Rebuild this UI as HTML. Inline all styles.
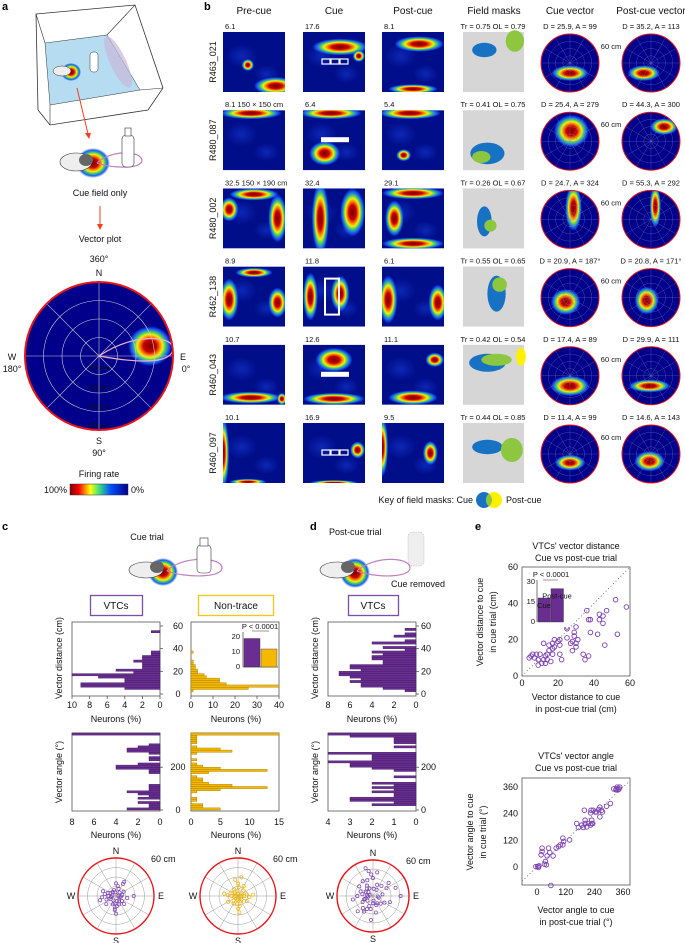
<!DOCTYPE html>
<html><head><meta charset="utf-8">
<style>
html,body{margin:0;padding:0;background:#fff;}
svg{display:block;font-family:"Liberation Sans",Arial,sans-serif;}
.t{font-size:9px;fill:#111;}
.s{font-size:7.5px;fill:#111;}
.h{font-size:10px;fill:#111;}
.b{font-size:11px;font-weight:bold;fill:#000;}
.ax{stroke:#555;stroke-width:0.8;fill:none;}
</style></head>
<body>
<svg id="fig" width="685" height="943" viewBox="0 0 685 943" xmlns="http://www.w3.org/2000/svg">
<defs>
<radialGradient id="jet">
<stop offset="0" stop-color="#7a0000"/><stop offset="0.3" stop-color="#c80000"/><stop offset="0.47" stop-color="#ff8c00"/><stop offset="0.58" stop-color="#f2ee10"/><stop offset="0.7" stop-color="#44d060"/><stop offset="0.85" stop-color="#1a5cff"/><stop offset="1" stop-color="#1a5cff" stop-opacity="0"/>
</radialGradient>
<radialGradient id="bluenoise">
<stop offset="0" stop-color="#1a40e0" stop-opacity="0.5"/><stop offset="1" stop-color="#1a40e0" stop-opacity="0"/>
</radialGradient>
<linearGradient id="cbar" x1="0" x2="1" y1="0" y2="0">
<stop offset="0" stop-color="#800000"/><stop offset="0.15" stop-color="#ff0000"/><stop offset="0.35" stop-color="#ffff00"/><stop offset="0.5" stop-color="#40e080"/><stop offset="0.7" stop-color="#0050ff"/><stop offset="1" stop-color="#00008b"/>
</linearGradient>
</defs>

<!-- Panel a -->
<g>
<text class="b" x="2" y="10">a</text>
<polygon points="36,14 135,5 163,88 148,110 50,125 38,110" fill="#fff" stroke="#333" stroke-width="0.8"/>
<polygon points="45,43 107,35 140,90 50,105" fill="#b6dcf2" stroke="#333" stroke-width="0.5"/>
<ellipse cx="118" cy="62" rx="8" ry="28" fill="#c8b8d8" opacity="0.7" transform="rotate(-25 118 62)"/>
<line x1="135" y1="5" x2="107" y2="35" stroke="#333" stroke-width="0.6"/>
<line x1="36" y1="14" x2="45" y2="43" stroke="#333" stroke-width="0.6"/>
<line x1="163" y1="88" x2="140" y2="90" stroke="#333" stroke-width="0.6"/>
<line x1="50" y1="125" x2="50" y2="105" stroke="#333" stroke-width="0.6"/>
<ellipse cx="71" cy="72" rx="10" ry="9" fill="url(#jet)"/>
<ellipse cx="62" cy="71" rx="9" ry="5" fill="#eee" stroke="#333" stroke-width="0.5"/>
<rect x="90" y="52" width="8" height="20" rx="3" fill="#fff" stroke="#333" stroke-width="0.5"/>
<line x1="77" y1="88" x2="88" y2="134" stroke="#f04020" stroke-width="1"/>
<polygon points="85,133 91,133 89,139" fill="#f04020"/>
<ellipse cx="93" cy="163" rx="17" ry="15" fill="url(#jet)"/>
<ellipse cx="76" cy="162" rx="16" ry="9" fill="#eee" stroke="#333" stroke-width="0.6"/>
<ellipse cx="86" cy="160" rx="7" ry="6" fill="#666"/>
<path d="M97,163 C110,150 140,150 142,160 C142,170 110,168 97,163" fill="none" stroke="#c080c0" stroke-width="1.2"/>
<rect x="122" y="135" width="12" height="32" rx="4" fill="#fff" stroke="#333" stroke-width="0.6"/>
<rect x="125" y="128" width="6" height="8" fill="#fff" stroke="#333" stroke-width="0.6"/>
<text class="t" x="100" y="196" text-anchor="middle">Cue field only</text>
<line x1="100" y1="206" x2="100" y2="225" stroke="#f04020" stroke-width="1"/>
<polygon points="97,224 103,224 100,230" fill="#f04020"/>
<text class="t" x="100" y="242" text-anchor="middle">Vector plot</text>
<text class="t" x="99" y="262" text-anchor="middle">360°</text>
<text class="t" x="99" y="276" text-anchor="middle">N</text>
<g id="polarA"></g>
<text class="t" x="12" y="360" text-anchor="middle">W</text>
<text class="t" x="12" y="372" text-anchor="middle">180°</text>
<text class="t" x="183" y="360" text-anchor="middle">E</text>
<text class="t" x="186" y="372" text-anchor="middle">0°</text>
<text class="t" x="99" y="444" text-anchor="middle">S</text>
<text class="t" x="99" y="456" text-anchor="middle">90°</text>
<text class="t" x="99" y="477" text-anchor="middle">Firing rate</text>
<rect x="70" y="484" width="58" height="11" fill="url(#cbar)" stroke="#333" stroke-width="0.5"/>
<text class="t" x="67" y="493" text-anchor="end">100%</text>
<text class="t" x="131" y="493">0%</text>
</g>

<!-- Panel b -->
<g id="panelB">
<text class="b" x="204" y="10">b</text>
<text class="h" x="254" y="14" text-anchor="middle">Pre-cue</text>
<text class="h" x="334" y="14" text-anchor="middle">Cue</text>
<text class="h" x="413" y="14" text-anchor="middle">Post-cue</text>
<text class="h" x="494" y="14" text-anchor="middle">Field masks</text>
<text class="h" x="570" y="14" text-anchor="middle">Cue vector</text>
<text class="h" x="651" y="14" text-anchor="middle">Post-cue vector</text>
<text class="t" x="473" y="503" text-anchor="end">Key of field masks: Cue</text>
<circle cx="484" cy="500" r="8" fill="#1872c4"/>
<circle cx="494" cy="500" r="8" fill="#fff000"/>
<path d="M489,493.7 A8,8 0 0 1 489,506.3 A8,8 0 0 1 489,493.7" fill="#8dc63f"/>
<text class="t" x="506" y="503">Post-cue</text>
</g>

<!-- Panel c -->
<g id="panelC">
<text class="b" x="2" y="530">c</text>
<text class="t" x="147" y="540" text-anchor="middle">Cue trial</text>
<ellipse cx="163" cy="572" rx="15" ry="14" fill="url(#jet)"/>
<ellipse cx="146" cy="570" rx="17" ry="8" fill="#eee" stroke="#333" stroke-width="0.6"/>
<ellipse cx="157" cy="567" rx="7" ry="6" fill="#666"/>
<path d="M167,571 C180,556 222,556 222,568 C222,578 185,578 167,571" fill="none" stroke="#c080c0" stroke-width="1.2"/>
<rect x="197" y="545" width="14" height="28" rx="4" fill="#fff" stroke="#333" stroke-width="0.6"/>
<rect x="200" y="538" width="8" height="8" fill="#fff" stroke="#333" stroke-width="0.6"/>
<rect x="90.5" y="595.5" width="52" height="20" fill="#fff" stroke="#7b4fa8" stroke-width="1.3"/>
<text class="h" x="116" y="609" text-anchor="middle">VTCs</text>
<rect x="198.5" y="595.5" width="75" height="20" fill="#fff" stroke="#f5c518" stroke-width="1.3"/>
<text class="h" x="236" y="609" text-anchor="middle">Non-trace</text>
<text class="t" transform="translate(62,658) rotate(-90)" text-anchor="middle">Vector distance (cm)</text>
<text class="t" transform="translate(62,772) rotate(-90)" text-anchor="middle">Vector angle (°)</text>
<text class="t" x="116" y="722" text-anchor="middle">Neurons (%)</text>
<text class="t" x="236" y="722" text-anchor="middle">Neurons (%)</text>
<text class="t" x="116" y="838" text-anchor="middle">Neurons (%)</text>
<text class="t" x="236" y="838" text-anchor="middle">Neurons (%)</text>
</g>

<!-- Panel d -->
<g id="panelD">
<text class="b" x="310" y="530">d</text>
<text class="t" x="329" y="535">Post-cue trial</text>
<rect x="408" y="532" width="16" height="34" rx="5" fill="#eee" stroke="#bbb" stroke-width="0.6" stroke-dasharray="1.5,1"/>
<ellipse cx="355" cy="573" rx="15" ry="15" fill="url(#jet)"/>
<ellipse cx="337" cy="570" rx="17" ry="8" fill="#eee" stroke="#333" stroke-width="0.6"/>
<ellipse cx="348" cy="567" rx="7" ry="6" fill="#666"/>
<path d="M357,571 C372,556 410,556 410,568 C410,578 375,578 357,571" fill="none" stroke="#c080c0" stroke-width="1.2"/>
<text class="t" x="391" y="587">Cue removed</text>
<rect x="348.5" y="595.5" width="50" height="20" fill="#fff" stroke="#7b4fa8" stroke-width="1.3"/>
<text class="h" x="373" y="609" text-anchor="middle">VTCs</text>
<text class="t" transform="translate(318,658) rotate(-90)" text-anchor="middle">Vector distance (cm)</text>
<text class="t" transform="translate(318,772) rotate(-90)" text-anchor="middle">Vector angle (°)</text>
<text class="t" x="372" y="722" text-anchor="middle">Neurons (%)</text>
<text class="t" x="372" y="838" text-anchor="middle">Neurons (%)</text>
</g>

<!-- Panel e -->
<g id="panelE">
<text class="b" x="475" y="530">e</text>
<text class="t" x="576" y="549" text-anchor="middle">VTCs' vector distance</text>
<text class="t" x="576" y="561" text-anchor="middle">Cue vs post-cue trial</text>
<text class="t" transform="translate(483,622) rotate(-90)" text-anchor="middle">Vector distance to cue</text>
<text class="t" transform="translate(496,622) rotate(-90)" text-anchor="middle">in cue trial (cm)</text>
<text class="t" x="576" y="700" text-anchor="middle">Vector distance to cue</text>
<text class="t" x="576" y="712" text-anchor="middle">in post-cue trial (cm)</text>
<text class="t" x="576" y="759" text-anchor="middle">VTCs' vector angle</text>
<text class="t" x="576" y="771" text-anchor="middle">Cue vs post-cue trial</text>
<text class="t" transform="translate(473,832) rotate(-90)" text-anchor="middle">Vector angle to cue</text>
<text class="t" transform="translate(486,832) rotate(-90)" text-anchor="middle">in cue trial (°)</text>
<text class="t" x="576" y="913" text-anchor="middle">Vector angle to cue</text>
<text class="t" x="576" y="925" text-anchor="middle">in post-cue trial  (°)</text>
</g>
</svg>

<script>
// ---------- chart data ----------
const distBinWidth = 2;      // cm
const angleBinWidth = 10;    // degrees
const cDistVTC = [0,0,4,9,9,4,4,7,10,3,5,2,2,2,3,2,2,1,1,0,0,0,0,0,0,0,0,1,0,0];
const cDistNonTrace = [0,1,26,40,16,13,13,7,6,3,3,2,2,1,1,0,0,0,1,0,0,0,0,0,0,0,0,0,0,0];
const cAngleVTC = [3,1,1,2,0,2,1,2,3,1,1,1,0,0,0,0,0,1,1,4,4,2,0,1,1,0,1,3,3,2,1,0,0,0,0,8];
const cAngleNonTrace = [5,2,2,0,1,1,0,0,1,5,13,7,3,2,2,1,0,3,13,5,2,1,0,1,0,0,1,7,5,1,0,1,1,1,1,15];
const dDistVTC = [0,1,3,5,5,6,5,6,7,7,5,6,6,3,3,4,4,3,4,1,3,0,4,1,0,2,1,0,1,0];
const dAngleVTC = [0,0,2,1,3,3,1,1,2,1,2,1,2,0,0,1,0,0,1,2,3,3,4,2,2,2,4,0,0,1,0,1,1,1,3,4];
const insetCLabels = ['VTCs','Non-trace'];
const insetCValues = [19,12];
const insetELabels = ['Cue','Post-cue'];
const insetEValues = [18,25];
const eDistPost = [52,58,47,43,45,36,37,38,43,45,38,42,53,46,30,25,25,29,29,25,31,30,28,27,30,28,21,20,18,17,21,18,17,15,12,15,14,17,21,22,34,37,35,14,16,13,12,11,9,8,10,7,9,13,5,6,4];
const eDistCue  = [42,38,36,34,33,36,31,31,31,29,24,23,23,17,27,27,26,24,22,21,20,18,19,18,16,14,20,19,20,18,17,16,15,17,18,14,12,12,12,9,12,11,9,9,8,11,9,7,9,12,12,10,6,7,11,12,10];
const eAnglePost = [-5,3,6,8,21,21,17,48,53,67,42,35,31,39,58,80,90,97,108,108,111,136,166,173,187,194,201,208,201,198,215,224,233,229,224,226,235,244,249,263,263,258,270,274,291,307,321,332,335,343,346,339,330,229];
const eAngleCue  = [2,3,-2,5,70,85,55,85,65,50,50,25,13,10,-83,85,92,100,100,130,115,122,196,178,189,178,196,181,211,256,196,189,196,211,244,256,256,248,248,270,226,259,256,248,274,286,352,352,360,352,360,348,348,196];
const cPolarVTCAng  = [270,280,290,300,250,230,200,190,180,175,170,160,150,120,100,95,90,85,80,70,60,40,20,10,0,350,330,315,300,260,210,185,140,110,45,5,355,200,165,95];
const cPolarVTCDist = [20,16,12,22,10,8,14,18,12,22,8,16,10,8,12,20,28,16,8,14,10,12,6,18,28,10,14,8,26,6,10,6,20,14,18,8,4,22,26,22];
const cPolarNTAng  = [270,275,265,90,95,85,180,185,0,5,355,45,135,225,315,260,280,100,80,190,170,10,350,300,240,120,60,30,150,210,330,270,90,0,180];
const cPolarNTDist = [20,14,8,20,12,26,10,16,10,18,24,8,10,8,12,26,30,6,16,22,6,4,14,18,12,14,10,16,18,10,8,4,4,6,4];
const dPolarAng  = [260,265,270,280,250,240,230,220,210,200,190,185,180,175,170,160,150,140,130,120,110,100,95,90,85,80,60,45,30,15,0,350,330,320,300,290,275,255,235,200,160,135,115,70,20,5,340,310,245,215];
const dPolarDist = [42,36,30,40,28,20,16,10,14,22,18,10,26,8,34,16,20,12,26,30,18,22,40,12,8,28,14,18,22,10,46,16,26,34,12,20,12,48,30,6,14,36,24,16,30,8,40,22,14,28];

// ---------- helpers ----------
const NS = 'http://www.w3.org/2000/svg';
const fig = document.getElementById('fig');
function mk(tag, attrs, parent) {
  const el = document.createElementNS(NS, tag);
  for (const k in attrs) el.setAttribute(k, attrs[k]);
  (parent || fig).appendChild(el);
  return el;
}
function txt(str, x, y, cls, anchor, parent, fill) {
  const el = mk('text', {x: x, y: y, class: cls, 'text-anchor': anchor || 'middle'}, parent);
  if (fill) el.setAttribute('fill', fill);
  el.textContent = str;
  return el;
}
function hbar(values, binW, yMap, x0, xMaxPix, maxVal, fill, stroke, name) {
  const g = mk('g', {});
  
  
  const sx = v => x0 + (xMaxPix - x0) * v / maxVal;
  values.forEach((v, i) => {
    if (v <= 0) return;
    const ya = yMap(i * binW), yb = yMap((i + 1) * binW);
    const xa = Math.min(x0, sx(v)), w = Math.abs(sx(v) - x0);
    const r = mk('rect', {x: xa, y: Math.min(ya, yb), width: w, height: Math.abs(ya - yb), fill: fill, stroke: stroke, 'stroke-width': 0.4}, g);
    
    
  });
  return g;
}
function box(x, y, w, h, name) {
  const r = mk('rect', {x: x, y: y, width: w, height: h, class: 'ax'});
  
  
}

const distY = v => 694 - (694 - 626) * v / 60;
const angY = v => 810 - (810 - 733) * v / 360;
const PUR = '#6a2d91', PURE = '#3d1a5c', YEL = '#f5b800', YELE = '#a07800';

box(72, 622, 88, 74, 'c-vtc-distance-axes');
hbar(cDistVTC, distBinWidth, distY, 160, 72, 10, PUR, PURE, 'c-vtc-distance-hist');
[10,8,6,4,2,0].forEach(v => { const x = 160 - 88 * v / 10; mk('line',{x1:x,y1:696,x2:x,y2:699,class:'ax'}); txt(String(v), x, 708, 't'); });
[0,20,40,60].forEach(v => { const y = distY(v); mk('line',{x1:160,y1:y,x2:163,y2:y,class:'ax'}); txt(String(v), 178, y + 3, 't'); });

box(191, 622, 88, 74, 'c-nontrace-distance-axes');
hbar(cDistNonTrace, distBinWidth, distY, 191, 279, 40, YEL, YELE, 'c-nontrace-distance-hist');
[0,10,20,30,40].forEach(v => { const x = 191 + 88 * v / 40; mk('line',{x1:x,y1:696,x2:x,y2:699,class:'ax'}); txt(String(v), x, 708, 't'); });

(function(){
  const yb = 667, yt = 637, max = 20, sy = v => yb - (yb - yt) * v / max;
  mk('line',{x1:243,y1:632,x2:243,y2:yb,class:'ax'});
  mk('line',{x1:243,y1:yb,x2:278,y2:yb,class:'ax'});
  [0,10,20].forEach(v => txt(String(v), 240, sy(v) + 2, 's', 'end'));
  const cols = [PUR, YEL];
  insetCValues.forEach((v, i) => {
    const x = 244 + i * 17;
    const r = mk('rect',{x:x, y:sy(v), width:16, height:yb - sy(v), fill:cols[i], stroke:'#333','stroke-width':0.4});
    
    
  });
  mk('line',{x1:252,y1:631,x2:269,y2:631,stroke:'#333','stroke-width':0.5});
  const p = txt('P < 0.0001', 260, 629, 's'); p.setAttribute('font-size','6');
})();

box(72, 733, 88, 78, 'c-vtc-angle-axes');
hbar(cAngleVTC, angleBinWidth, angY, 160, 72, 8, PUR, PURE, 'c-vtc-angle-hist');
[8,6,4,2,0].forEach(v => { const x = 160 - 88 * v / 8; txt(String(v), x, 825, 't'); });
[0,200].forEach(v => { const y = angY(v); mk('line',{x1:160,y1:y,x2:163,y2:y,class:'ax'}); txt(String(v), 178, y + 3, 't'); });

box(191, 733, 88, 78, 'c-nontrace-angle-axes');
hbar(cAngleNonTrace, angleBinWidth, angY, 191, 279, 15, YEL, YELE, 'c-nontrace-angle-hist');
[0,5,10,15].forEach(v => { const x = 191 + 88 * v / 15; txt(String(v), x, 825, 't'); });

box(328, 622, 88, 74, 'd-vtc-distance-axes');
hbar(dDistVTC, distBinWidth, distY, 416, 328, 8, PUR, PURE, 'd-vtc-distance-hist');
[8,6,4,2,0].forEach(v => { const x = 416 - 88 * v / 8; txt(String(v), x, 708, 't'); });
[0,20,40,60].forEach(v => { const y = distY(v); mk('line',{x1:416,y1:y,x2:419,y2:y,class:'ax'}); txt(String(v), 421, y + 3, 't', 'start'); });

box(328, 733, 88, 78, 'd-vtc-angle-axes');
hbar(dAngleVTC, angleBinWidth, angY, 416, 328, 4, PUR, PURE, 'd-vtc-angle-hist');
[4,3,2,1,0].forEach(v => { const x = 416 - 88 * v / 4; txt(String(v), x, 825, 't'); });
[0,200].forEach(v => { const y = angY(v); mk('line',{x1:416,y1:y,x2:419,y2:y,class:'ax'}); txt(String(v), 421, y + 3, 't', 'start'); });

function polarScatter(cx, cy, r, angs, dists, color, name) {
  const g = mk('g', {});
  
  
  [1,2,3].forEach(k => mk('circle',{cx:cx,cy:cy,r:r*k/4,fill:'none',stroke:'#999','stroke-width':0.5}, g));
  for (let a = 0; a < 360; a += 30) {
    const rad = a * Math.PI / 180;
    mk('line',{x1:cx,y1:cy,x2:cx + r*Math.cos(rad),y2:cy + r*Math.sin(rad),stroke:'#999','stroke-width':0.5}, g);
  }
  mk('circle',{cx:cx,cy:cy,r:r,fill:'none',stroke:'#e8141a','stroke-width':1.4}, g);
  angs.forEach((a, i) => {
    const rad = a * Math.PI / 180, d = r * dists[i] / 60;
    const c = mk('circle',{cx:cx + d*Math.cos(rad), cy:cy + d*Math.sin(rad), r:1.6, fill:'none', stroke:color, 'stroke-width':0.7}, g);
    
    
  });
  txt('N', cx, cy - r - 4, 't', 'middle', g);
  txt('S', cx, cy + r + 10, 't', 'middle', g);
  txt('W', cx - r - 7, cy + 3, 't', 'middle', g);
  txt('E', cx + r + 7, cy + 3, 't', 'middle', g);
  txt('60 cm', cx + r - 3, cy - r + 4, 't', 'start', g, '#e8141a');
}
polarScatter(116, 896, 38, cPolarVTCAng, cPolarVTCDist, '#7b3fb0', 'c-vtc-polar');
polarScatter(238, 896, 38, cPolarNTAng, cPolarNTDist, '#f0b400', 'c-nontrace-polar');
polarScatter(373, 896, 36, dPolarAng, dPolarDist, '#7b3fb0', 'd-vtc-polar');

function scatter(xs, ys, X0, X1, Y0, Y1, px0, px1, py0, py1, ticks, name) {
  const sx = v => px0 + (px1 - px0) * (v - X0) / (X1 - X0);
  const sy = v => py0 - (py0 - py1) * (v - Y0) / (Y1 - Y0);
  box(px0, py1, px1 - px0, py0 - py1, name + '-axes');
  const lo = Math.max(X0, Y0), hi = Math.min(X1, Y1);
  mk('line',{x1:sx(lo),y1:sy(lo),x2:sx(hi),y2:sy(hi),stroke:'#555','stroke-width':0.8,'stroke-dasharray':'1,2.5'});
  ticks.forEach(t => {
    txt(String(t), sx(t), py0 + 10, 't');
    txt(String(t), px0 - 4, sy(t) + 3, 't', 'end');
  });
  xs.forEach((v, i) => {
    const c = mk('circle',{cx:sx(v), cy:sy(ys[i]), r:2.3, fill:'none', stroke:'#7b3fb0', 'stroke-width':0.9});
    
    
  });
}
scatter(eDistPost, eDistCue, 0, 60, 0, 60, 522, 630, 676, 567, [0,20,40,60], 'e-distance-scatter');
scatter(eAnglePost, eAngleCue, -63, 389, -81, 401, 522, 630, 885, 778, [0,120,240,360], 'e-angle-scatter');

(function(){
  const yb = 622, yt = 582, max = 30, sy = v => yb - (yb - yt) * v / max;
  mk('rect',{x:537, y:571, width:34, height:56, fill:'#fff'});
  mk('line',{x1:537,y1:580,x2:537,y2:yb,class:'ax'});
  [0,15,30].forEach(v => txt(String(v), 535, sy(v) + 2, 's', 'end').setAttribute('font-size','5.5'));
  insetEValues.forEach((v, i) => {
    const x = 538 + i * 13;
    const r = mk('rect',{x:x, y:sy(v), width:12.5, height:yb - sy(v), fill:'#6a2d91', stroke:'#333','stroke-width':0.4});
    
    
    const t = txt(insetELabels[i], x + 6, sy(v) + 10, 's', 'middle', null, '#fff');
    t.setAttribute('font-size', '5');
  });
  mk('line',{x1:543,y1:580,x2:558,y2:580,stroke:'#333','stroke-width':0.5});
  txt('P < 0.0001', 551, 577, 's').setAttribute('font-size','5.5');
})();

(function(){
  const g = document.getElementById('polarA');
  const cx = 99, cy = 356, r = 74;
  mk('circle',{cx:cx,cy:cy,r:r,fill:'#00008b'}, g);
  mk('ellipse',{cx:150,cy:346,rx:22,ry:20,fill:'url(#jet)'}, g);
  [1,2,3].forEach(k => mk('circle',{cx:cx,cy:cy,r:r*k/4,fill:'none',stroke:'#ccc','stroke-width':0.6}, g));
  for (let a = 0; a < 360; a += 45) {
    const rad = a * Math.PI / 180;
    mk('line',{x1:cx,y1:cy,x2:cx + r*Math.cos(rad),y2:cy + r*Math.sin(rad),stroke:'#ccc','stroke-width':0.6}, g);
  }
  mk('path',{d:'M99,356 C130,335 165,335 172,345 C176,356 165,368 99,356',fill:'none',stroke:'#f0b0d0','stroke-width':1.2}, g);
  mk('circle',{cx:cx,cy:cy,r:r,fill:'none',stroke:'#e8141a','stroke-width':2}, g);
  [['15 cm',370],['30 cm',390],['45 cm',409],['60 cm',428]].forEach(p => txt(p[0], cx, p[1], 's', 'middle', g, '#fff'));
})();

const rows = [
 {id:'R463_021', nums:['6.1','17.6','8.1'], tr:'Tr = 0.75 OL = 0.79', cv:'D = 25.9, A = 99', pv:'D = 35.2, A = 113',
  maps:[[[.85,.9,.35,.15],[.4,.55,.1,.1]], [[.6,.25,.45,.14],[.9,.4,.1,.1]], [[.6,.2,.4,.13],[.5,.95,.4,.08]]],
  boxes:[1], mask:[[.35,.3,.2,.12,'#1872c4'],[.85,.15,.15,.18,'#8dc63f']],
  cb:[0,.35,.4,.17], pb:[-.25,.35,.35,.17]},
 {id:'R480_087', nums:['8.1  150 × 150 cm','6.4','5.4'], tr:'Tr = 0.41 OL = 0.75', cv:'D = 25.4, A = 279', pv:'D = 44.3, A = 300',
  maps:[[[.45,.05,.5,.1]], [[.45,.05,.5,.1],[.35,.72,.25,.2]], [[.45,.05,.5,.1],[.35,.75,.12,.1]]],
  bar:[1], mask:[[.4,.72,.28,.18,'#1872c4'],[.3,.78,.15,.1,'#8dc63f']],
  cb:[.05,-.35,.38,.35], pb:[.45,-.5,.3,.18]},
 {id:'R480_002', nums:['32.5  150 × 190 cm','32.4','29.1'], tr:'Tr = 0.26 OL = 0.67', cv:'D = 24.7, A = 324', pv:'D = 55.3, A = 292',
  maps:[[[.88,.5,.15,.4],[.1,.35,.15,.2],[.5,.1,.4,.1]], [[.28,.5,.14,.6],[.8,.4,.2,.4]], [[.5,.08,.5,.1],[.5,.92,.5,.1],[.2,.5,.15,.3]]],
  mask:[[.35,.55,.12,.25,'#1872c4'],[.45,.62,.1,.1,'#8dc63f']],
  cb:[.12,-.4,.18,.5], pb:[.15,-.45,.12,.45]},
 {id:'R462_138', nums:['8.9','11.8','6.1'], tr:'Tr = 0.55 OL = 0.65', cv:'D = 20.9, A = 187°', pv:'D = 20.8, A = 171°',
  maps:[[[.1,.55,.15,.35],[.88,.6,.15,.25],[.5,.1,.3,.08]], [[.12,.5,.12,.4],[.6,.45,.15,.3]], [[.1,.55,.15,.4],[.9,.6,.15,.3]]],
  frame:[1], mask:[[.55,.45,.15,.3,'#1872c4'],[.6,.3,.12,.12,'#8dc63f']],
  cb:[-.15,.15,.32,.28], pb:[-.15,.1,.26,.3]},
 {id:'R460_043', nums:['10.7','12.6','11.1'], tr:'Tr = 0.42 OL = 0.54', cv:'D = 17.4, A = 89', pv:'D = 29.9, A = 111',
  maps:[[[.45,.88,.5,.1],[.95,.9,.08,.1]], [[.5,.25,.3,.2],[.5,.9,.5,.1]], [[.5,.88,.4,.12],[.85,.25,.15,.12]]],
  bar:[1], mask:[[.4,.3,.3,.15,'#1872c4'],[.55,.25,.25,.1,'#8dc63f'],[.95,.2,.08,.15,'#fff000']],
  cb:[0,.35,.42,.22], pb:[-.05,.35,.45,.14]},
 {id:'R460_097', nums:['10.1','16.9','9.5'], tr:'Tr = 0.44 OL = 0.85', cv:'D = 11.4, A = 99', pv:'D = 14.6, A = 143',
  maps:[[[0,.5,.1,.6],[.4,.98,.3,.05]], [[.88,.45,.12,.14],[.5,1,.4,.05]], [[0,.4,.1,.5],[.78,.5,.12,.2]]],
  boxes:[1], mask:[[.4,.4,.25,.12,'#1872c4'],[.8,.45,.18,.2,'#8dc63f']],
  cb:[0,.3,.33,.17], pb:[-.05,.25,.33,.22]}
];
const cellX = [223, 303, 382];
const B = document.getElementById('panelB');
rows.forEach((row, ri) => {
  const top = 32 + ri * 78.2, W = 62, H = 60;
  const lab = txt(row.id, 0, 0, 't', 'middle', B);
  lab.setAttribute('transform', `translate(216,${top + 30}) rotate(-90)`);
  
  
  cellX.forEach((x, ci) => {
    txt(row.nums[ci], x + 2, top - 3, 's', 'start', B);
    const g = mk('g', {}, B);
    
    
    const cid = 'clip' + ri + ci;
    const cp = mk('clipPath', {id: cid}, g);
    mk('rect', {x: x, y: top, width: W, height: H}, cp);
    const ig = mk('g', {'clip-path': `url(#${cid})`}, g);
    mk('rect', {x: x, y: top, width: W, height: H, fill: '#000e8a'}, ig);
    mk('ellipse', {cx: x + W*.3, cy: top + H*.4, rx: W*.25, ry: H*.2, fill: 'url(#bluenoise)'}, ig);
    mk('ellipse', {cx: x + W*.7, cy: top + H*.7, rx: W*.2, ry: H*.15, fill: 'url(#bluenoise)'}, ig);
    row.maps[ci].forEach(b => mk('ellipse', {cx: x + W*b[0], cy: top + H*b[1], rx: W*b[2], ry: H*b[3], fill: 'url(#jet)'}, ig));
    if (ci === 1 && row.boxes) for (let k = 0; k < 3; k++) mk('rect', {x: x + 19 + k*9, y: top + 27, width: 8, height: 5, fill: 'none', stroke: '#fff', 'stroke-width': 1.2}, ig);
    if (ci === 1 && row.bar) mk('rect', {x: x + 18, y: top + 27, width: 28, height: 5, fill: '#fff'}, ig);
    if (ci === 1 && row.frame) mk('rect', {x: x + 22, y: top + 12, width: 14, height: 36, fill: 'none', stroke: '#fff', 'stroke-width': 2}, ig);
  });
  const mx = 463;
  txt(row.tr, mx + 30, top - 3, 's', 'middle', B);
  const mg = mk('g', {}, B);
  
  
  mk('rect', {x: mx, y: top, width: 61, height: 60, fill: '#d6d6d6'}, mg);
  row.mask.forEach(m => mk('ellipse', {cx: mx + 61*m[0], cy: top + 60*m[1], rx: 61*m[2], ry: 60*m[3], fill: m[4]}, mg));
  [[570, row.cv, row.cb, 'cue'], [651, row.pv, row.pb, 'post-cue']].forEach(v => {
    const cx = v[0], cy = top + 31, r = 29;
    txt(v[1], cx, top - 3, 's', 'middle', B);
    const pg = mk('g', {}, B);
    
    
    const pc = 'pclip' + ri + v[3];
    const cp = mk('clipPath', {id: pc}, pg);
    mk('circle', {cx: cx, cy: cy, r: r}, cp);
    const ig = mk('g', {'clip-path': `url(#${pc})`}, pg);
    mk('circle', {cx: cx, cy: cy, r: r, fill: '#00008b'}, ig);
    const b = v[2];
    mk('ellipse', {cx: cx + r*b[0], cy: cy + r*b[1], rx: r*b[2]*1.6, ry: r*b[3]*1.6, fill: 'url(#jet)'}, ig);
    [1,2,3].forEach(k => mk('circle', {cx: cx, cy: cy, r: r*k/4, fill: 'none', stroke: '#8890c0', 'stroke-width': 0.35, opacity: 0.7}, ig));
    for (let a = 0; a < 360; a += 30) {
      const rad = a * Math.PI / 180;
      mk('line', {x1: cx, y1: cy, x2: cx + r*Math.cos(rad), y2: cy + r*Math.sin(rad), stroke: '#8890c0', 'stroke-width': 0.35, opacity: 0.7}, ig);
    }
    mk('circle', {cx: cx, cy: cy, r: r, fill: 'none', stroke: '#e8141a', 'stroke-width': 1}, pg);
  });
  txt('60 cm', 611, top + 17, 's', 'middle', B, '#e8141a');
});
</script>
</body></html>
